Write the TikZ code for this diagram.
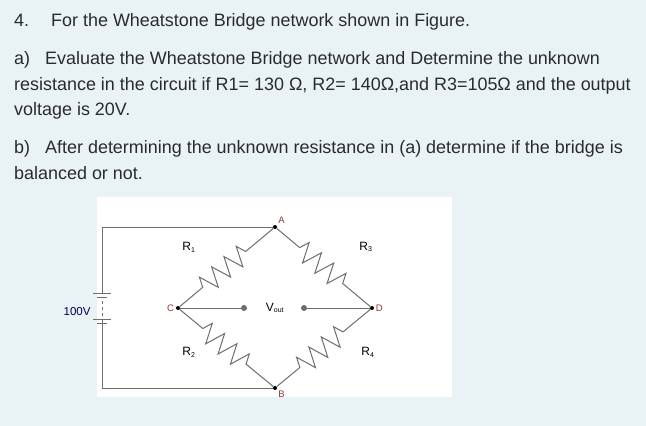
\documentclass[tikz,border=0pt]{standalone}
\usepackage{fontspec}
\setmainfont{Liberation Sans}
\usetikzlibrary{decorations.pathmorphing}
\definecolor{bg}{HTML}{E9F2F5}
\definecolor{txt}{HTML}{2B2B2B}
\definecolor{wire}{HTML}{6E6E6E}
\definecolor{lbl}{HTML}{8B3A3A}
\begin{document}
\begin{tikzpicture}[x=1pt,y=-1pt,
  q/.style={anchor=base west,inner sep=0,font=\fontsize{17.95}{20}\selectfont,text=txt},
  w/.style={draw=wire,line width=1pt},
  res/.style={w,decorate,decoration={zigzag,segment length=16pt,amplitude=10pt,pre length=30pt,post length=30pt}},
  dot/.style={circle,fill=black,inner sep=0,minimum size=4pt},
  term/.style={circle,fill=wire,inner sep=0,minimum size=6pt},
  nl/.style={font=\fontsize{9.5}{10}\selectfont,text=lbl,inner sep=1.5pt},
  rl/.style={font=\fontsize{12}{13}\selectfont,text=black,inner sep=0}]
\fill[bg] (0,0) rectangle (646,426);
\useasboundingbox (0,0) rectangle (646,426);
\node[q] (t1) at (14,26) {4.\hspace{22pt}For the Wheatstone Bridge network shown in Figure.};
\node[q] (t2) at (14,64) {a)\hspace{15pt}Evaluate the Wheatstone Bridge network and Determine the unknown};
\node[q] (t3) at (14,90) {resistance in the circuit if R1= 130 Ω, R2= 140Ω,and R3=105Ω and the output};
\node[q] (t4) at (14,115) {voltage is 20V.};
\node[q] (t5) at (14,153) {b)\hspace{15pt}After determining the unknown resistance in (a) determine if the bridge is};
\node[q] (t6) at (14,179) {balanced or not.};
\fill[white] (97,197) rectangle (452,397);
\node[dot] (A) at (275,227) {};
\node[dot] (B) at (275,388) {};
\node[dot] (C) at (178,308) {};
\node[dot] (D) at (372,308) {};
\node[nl,anchor=south west] at (A.north east) {A};
\node[nl,anchor=north west] at (B.south east) {B};
\node[nl,anchor=east] at (C.west) {C};
\node[nl,anchor=west] at (D.east) {D};
\node[term] (V1) at (244,308) {};
\node[term] (V2) at (304,308) {};
\node[rl] (vo) at (275,308) {V\textsubscript{\fontsize{7}{7}\selectfont out}};
\draw[res] (C) -- (A);
\draw[res] (A) -- (D);
\draw[res] (C) -- (B);
\draw[res] (B) -- (D);
\draw[w] (C) -- (V1);
\draw[w] (V2) -- (D);
\node[rl] (r1) at (189,247) {R\textsubscript{\fontsize{7}{7}\selectfont 1}};
\node[rl] (r3) at (366,247) {R\textsubscript{\fontsize{7}{7}\selectfont 3}};
\node[rl] (r2) at (189,352) {R\textsubscript{\fontsize{7}{7}\selectfont 2}};
\node[rl] (r4) at (368,352) {R\textsubscript{\fontsize{7}{7}\selectfont 4}};
\coordinate (tl) at (102,227);
\coordinate (bl) at (102,388);
\coordinate (p1) at (102,293);
\coordinate (p2) at (102,319);
\draw[w] (A) -- (tl) -- (p1);
\draw[w] (B) -- (bl) -- (p2);
\draw[w] (93,293) -- (111,293);
\draw[w] (97,297) -- (107,297);
\draw[w] (93,319) -- (111,319);
\draw[w] (97,323) -- (107,323);
\draw[wire,line width=0.9pt,dash pattern=on 3pt off 3pt] (102,301) -- (102,316);
\node[font=\fontsize{11.5}{13}\selectfont,text=black!70!blue,anchor=east] (bv) at (94,312) {100V};
\end{tikzpicture}
\end{document}
